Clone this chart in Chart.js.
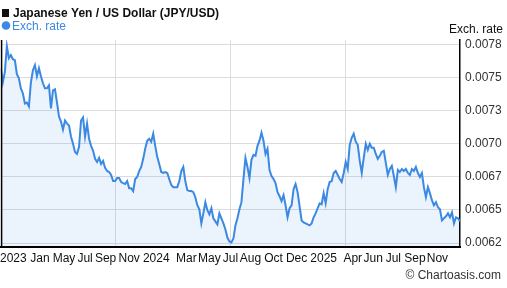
<!DOCTYPE html>
<html>
<head>
<meta charset="utf-8">
<title>Japanese Yen / US Dollar (JPY/USD)</title>
<script src="https://cdn.jsdelivr.net/npm/chart.js@4.4.1/dist/chart.umd.min.js"></script>
<style>
  body { margin: 0; background: #fff; }
  canvas { display: block; }
</style>
</head>
<body>
<canvas id="fx-chart" width="507" height="288"></canvas>
<script>
// JPY/USD rate, oldest first (about 3 years)
const rates = [
  0.007609, 0.007496, 0.007577, 0.007788, 0.007690, 0.007715, 0.007682, 0.007674, 0.007561, 0.007528,
  0.007447, 0.007406, 0.007325, 0.007333, 0.007301, 0.007496, 0.007593, 0.007634, 0.007544, 0.007609,
  0.007544, 0.007488, 0.007447, 0.007447, 0.007471, 0.007285, 0.007431, 0.007439, 0.007333, 0.007220,
  0.007179, 0.007114, 0.007187, 0.007163, 0.007147, 0.007057, 0.007000, 0.006935, 0.006919, 0.006976,
  0.007187, 0.007212, 0.007057, 0.007163, 0.007041, 0.006984, 0.006944, 0.006879, 0.006854, 0.006887,
  0.006838, 0.006862, 0.006806, 0.006781, 0.006773, 0.006749, 0.006700, 0.006700, 0.006724, 0.006724,
  0.006692, 0.006684, 0.006676, 0.006700, 0.006643, 0.006643, 0.006619, 0.006716, 0.006733, 0.006781,
  0.006814, 0.006879, 0.006960, 0.007025, 0.007041, 0.007017, 0.007082, 0.006984, 0.006895, 0.006838,
  0.006773, 0.006765, 0.006773, 0.006765, 0.006716, 0.006668, 0.006651, 0.006651, 0.006651, 0.006700,
  0.006781, 0.006814, 0.006700, 0.006627, 0.006619, 0.006619, 0.006611, 0.006570, 0.006505, 0.006473,
  0.006359, 0.006440, 0.006530, 0.006465, 0.006432, 0.006481, 0.006400, 0.006375, 0.006351, 0.006440,
  0.006400, 0.006359, 0.006310, 0.006245, 0.006213, 0.006205, 0.006237, 0.006343, 0.006400, 0.006473,
  0.006530, 0.006716, 0.006887, 0.006814, 0.006724, 0.006871, 0.006911, 0.006903, 0.006984, 0.007025,
  0.007090, 0.007025, 0.006919, 0.006960, 0.006789, 0.006741, 0.006716, 0.006684, 0.006611, 0.006578,
  0.006538, 0.006586, 0.006505, 0.006408, 0.006481, 0.006505, 0.006635, 0.006676, 0.006611, 0.006497,
  0.006383, 0.006367, 0.006359, 0.006351, 0.006343, 0.006359, 0.006408, 0.006440, 0.006481, 0.006521,
  0.006513, 0.006603, 0.006521, 0.006635, 0.006692, 0.006700, 0.006765, 0.006781, 0.006749, 0.006716,
  0.006692, 0.006765, 0.006854, 0.006797, 0.006992, 0.007049, 0.007082, 0.007017, 0.006992, 0.006862,
  0.006765, 0.006887, 0.007000, 0.006952, 0.007000, 0.006968, 0.006968, 0.006919, 0.006879, 0.006903,
  0.006935, 0.006944, 0.006846, 0.006749, 0.006797, 0.006822, 0.006741, 0.006651, 0.006789, 0.006773,
  0.006797, 0.006781, 0.006797, 0.006765, 0.006749, 0.006797, 0.006781, 0.006814, 0.006765, 0.006733,
  0.006765, 0.006651, 0.006570, 0.006651, 0.006603, 0.006546, 0.006505, 0.006530, 0.006489, 0.006473,
  0.006383, 0.006400, 0.006416, 0.006440, 0.006408, 0.006448, 0.006359, 0.006408, 0.006400, 0.006375
];

// x labels as chartoasis places them (position = sample index)
const xTickLabels = ['2023', 'Jan', 'May', 'Jul', 'Sep', 'Nov', '2024', 'Mar', 'May', 'Jul',
  'Aug', 'Oct', 'Dec', '2025', 'Apr', 'Jun', 'Jul', 'Sep', 'Nov'];
const xTickPos = [6.25, 19.5, 31.5, 42, 52.25, 64, 77.5, 92.5, 104, 114.5,
  124.5, 136, 147.5, 161, 175.5, 185.75, 195.75, 206.5, 217.75];

// y ticks: 6 equal steps from 0.0062 to 0.0078
const yTicks = [0.0062, 0.006467, 0.006733, 0.0070, 0.007267, 0.007533, 0.0078];

const lineColor = '#3b89e3';
const fontFamily = '"Liberation Sans", Arial, sans-serif';

// titel, legende, rahmen links, copyright
const extrasPlugin = {
  id: 'extras',
  afterDraw(chart) {
    const ctx = chart.ctx;
    const area = chart.chartArea;
    ctx.save();
    ctx.strokeStyle = '#000';
    ctx.lineWidth = 1.5;
    ctx.beginPath();
    ctx.moveTo(area.left + 0.75, area.top);
    ctx.lineTo(area.left + 0.75, area.bottom);
    ctx.stroke();

    ctx.fillStyle = '#111';
    ctx.fillRect(2, 9, 7, 8);
    ctx.font = 'bold 12px ' + fontFamily;
    ctx.textBaseline = 'alphabetic';
    ctx.fillText('Japanese Yen / US Dollar (JPY/USD)', 13, 17);

    ctx.fillStyle = lineColor;
    ctx.beginPath();
    ctx.arc(6, 25.5, 4.3, 0, Math.PI * 2);
    ctx.fill();
    ctx.font = '12px ' + fontFamily;
    ctx.fillText('Exch. rate', 12, 30);

    ctx.fillStyle = '#111';
    ctx.textAlign = 'right';
    ctx.fillText('Exch. rate', 503, 33);
    ctx.fillStyle = '#333';
    ctx.fillText('\u00a9 Chartoasis.com', 501, 279);
    ctx.restore();
  }
};

const lastIndex = rates.length - 1;
const gridPos = [1, 2, 3].map(i => lastIndex * i / 4);

const ctx = document.getElementById('fx-chart').getContext('2d');
const chart = new Chart(ctx, {
  type: 'line',
  data: {
    datasets: [{
      label: 'Exch. rate',
      data: rates.map((v, i) => ({ x: i, y: v })),
      borderColor: lineColor,
      borderWidth: 2,
      backgroundColor: 'rgba(59, 137, 227, 0.1)',
      fill: 'start',
      pointRadius: 0,
      tension: 0
    }]
  },
  plugins: [extrasPlugin],
  options: {
    responsive: false,
    animation: false,
    layout: { padding: { top: 40, left: 0, right: 0, bottom: 22 } },
    plugins: {
      legend: { display: false },
      title: { display: false },
      tooltip: { enabled: false }
    },
    scales: {
      x: {
        type: 'linear',
        min: 0,
        max: lastIndex,
        afterBuildTicks: axis => { axis.ticks = xTickPos.map(v => ({ value: v })); },
        // grid hidden, tickLength only used as label gap
        grid: { display: false, drawTicks: true, tickLength: 5 },
        border: { display: true, color: '#000', width: 2 },
        ticks: {
          autoSkip: false,
          maxRotation: 0,
          padding: 0,
          color: '#111',
          font: { family: fontFamily, size: 12 },
          callback: (value, index) => xTickLabels[index]
        }
      },
      xg: {
        type: 'linear',
        position: 'top',
        min: 0,
        max: lastIndex,
        afterBuildTicks: axis => { axis.ticks = gridPos.map(v => ({ value: v })); },
        grid: { color: '#dcdcdc', lineWidth: 1, drawTicks: false },
        border: { display: false },
        ticks: { display: false }
      },
      y: {
        position: 'right',
        min: 0.006172,
        max: 0.0078365,
        afterBuildTicks: axis => { axis.ticks = yTicks.map(v => ({ value: v })); },
        afterFit: axis => { axis.width = 47; },
        grid: { color: '#dcdcdc', lineWidth: 1, drawTicks: false },
        border: { display: true, color: '#000', width: 1.5 },
        ticks: {
          padding: 5,
          color: '#333',
          font: { family: fontFamily, size: 12 },
          callback: value => value.toFixed(4)
        }
      }
    }
  }
});
</script>
</body>
</html>
